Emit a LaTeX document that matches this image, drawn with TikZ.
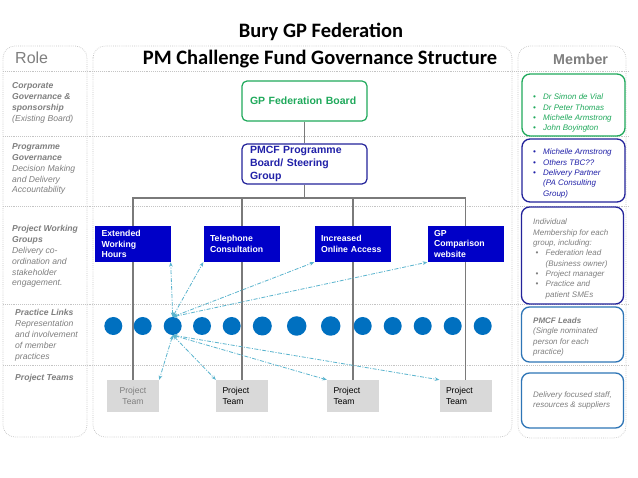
\documentclass[tikz,border=0pt]{standalone}
\usepackage{fontspec}
\setmainfont{Liberation Sans}
\newfontfamily\titlefont{Carlito}
\usetikzlibrary{arrows.meta}
\definecolor{dotgray}{HTML}{C4C4C4}
\definecolor{rolegray}{HTML}{7F7F7F}
\definecolor{fedgreen}{HTML}{1FA95B}
\definecolor{navy}{HTML}{23239A}
\definecolor{navytext}{HTML}{2020A8}
\definecolor{wgblue}{HTML}{0000C8}
\definecolor{dotblue}{HTML}{0070C0}
\definecolor{arrcol}{HTML}{5AB4CE}
\definecolor{steel}{HTML}{2E75B6}
\definecolor{teamgray}{HTML}{D9D9D9}
\definecolor{linegray}{HTML}{7A7A7A}
\newcommand\myfs[2]{\fontsize{#1pt}{#2pt}\selectfont}
\newcommand\mybul{\makebox[10pt][l]{\textbullet}}
\begin{document}
\begin{tikzpicture}[x=1pt,y=-1pt,
  colbox/.style={draw=dotgray, line width=0.7pt, dash pattern=on 0.7pt off 1.2pt, rounded corners=12pt},
  sepline/.style={draw=dotgray, line width=0.7pt, dash pattern=on 0.7pt off 1.2pt},
  roletxt/.style={anchor=north west, inner sep=0pt, align=left, text=rolegray, font=\itshape\myfs{8.6}{10.8}},
  fedbox/.style={draw=fedgreen, text=fedgreen, line width=1.2pt, rounded corners=5pt, minimum width=125pt, minimum height=40pt, text width=109pt, inner xsep=8pt, inner ysep=0pt, align=left, font=\bfseries\myfs{10.5}{12.7}},
  pmbox/.style={fedbox, draw=navy, text=navytext},
  wg/.style={fill=wgblue, text=white, font=\bfseries\myfs{8.7}{10.7}, minimum width=76pt, minimum height=36pt, text width=63pt, align=left, inner xsep=6.5pt, inner ysep=0pt},
  team/.style={fill=teamgray, minimum width=52pt, minimum height=32pt, inner ysep=0pt, font=\myfs{8.6}{10.7}},
  conn/.style={draw=linegray, line width=1.1pt},
  pdot/.style={circle, fill=dotblue, inner sep=0pt, minimum size=18pt},
  arr/.style={draw=arrcol, line width=0.8pt, dash pattern=on 4pt off 1.5pt on 1pt off 1.5pt, <->, >={Stealth[length=4.5pt,width=3.6pt]}},
  rbox/.style={fill=white, line width=1.3pt, rounded corners=8pt, inner sep=0pt, minimum width=102pt},
  mtxt/.style={anchor=north west, inner sep=0pt, align=left, font=\itshape\myfs{8}{10.3}}
]
\useasboundingbox[fill=white] (0,0) rectangle (638,478);

% column frames and row separators
\draw[colbox] (3,46) rectangle (87,437);
\draw[colbox] (93,46) rectangle (512,437);
\draw[colbox] (518,46) rectangle (626,438);
\foreach \yy in {71,136,206,304,365} \draw[sepline] (3,\yy) -- (629,\yy);

% title
\node[anchor=base, font=\titlefont\bfseries\myfs{20.5}{24}] (t1) at (321,38) {Bury GP Federation};
\node[anchor=base, font=\titlefont\bfseries\myfs{20.5}{24}] (t2) at (320,65) {PM Challenge Fund Governance Structure};

% headers
\node[anchor=base west, inner sep=0pt, text=rolegray, font=\myfs{16}{18}] (role) at (15,64) {Role};
\node[anchor=base west, inner sep=0pt, text=rolegray, font=\bfseries\myfs{14.3}{17}] (member) at (553,65) {Member};

% role texts
\node[roletxt] (r1) at (12,82.5) {\textbf{Corporate}\\\textbf{Governance \&}\\\textbf{sponsorship}\\(Existing Board)};
\node[roletxt] (r2) at (12,143.5) {\textbf{Programme}\\\textbf{Governance}\\Decision Making\\and Delivery\\Accountability};
\node[roletxt] (r3) at (12,225.5) {\textbf{Project Working}\\\textbf{Groups}\\Delivery co-\\ordination and\\stakeholder\\engagement.};
\node[roletxt] (r4) at (15,309.5) {\textbf{Practice Links}\\Representation\\and involvement\\of member\\practices};
\node[roletxt] (r5) at (15,374.5) {\textbf{Project Teams}};

% structure boxes
\node[fedbox] (gpfb) at (304.5,101) {GP Federation Board};
\node[pmbox] (pmcf) at (304.5,164) {PMCF Programme\\Board/ Steering\\Group};

% project teams
\node[team, text=rolegray, align=center, inner xsep=0pt] (pt1) at (133,396) {Project\\Team};
\node[team, align=left, text width=39pt, inner xsep=6.5pt] (pt2) at (242,396) {Project\\Team};
\node[team, align=left, text width=39pt, inner xsep=6.5pt] (pt3) at (353,396) {Project\\Team};
\node[team, align=left, text width=39pt, inner xsep=6.5pt] (pt4) at (465.5,396) {Project\\Team};

% connectors
\coordinate (bus) at (0,198);
\draw[conn] (gpfb) -- (pmcf);
\draw[conn] (pmcf.south) -- (pmcf.south |- bus);
\draw[conn] ([xshift=-0.55pt]pt1.north |- bus) -- ([xshift=0.55pt]pt4.north |- bus);
\foreach \n in {pt1,pt2,pt3,pt4} \draw[conn] (\n.north |- bus) -- (\n.north);

% practice dots
\node[pdot] (c1) at (113.3,326) {};
\node[pdot] (c2) at (142.7,326) {};
\node[pdot] (c3) at (172.7,326) {};
\node[pdot] (c4) at (202,326) {};
\node[pdot] (c5) at (231.7,326) {};
\node[pdot, minimum size=19pt] (c6) at (262.3,326) {};
\node[pdot, minimum size=19.5pt] (c7) at (296.7,326) {};
\node[pdot, minimum size=19.5pt] (c8) at (330.7,326) {};
\node[pdot] (c9) at (362.7,326) {};
\node[pdot] (c10) at (392.7,326) {};
\node[pdot] (c11) at (422.7,326) {};
\node[pdot] (c12) at (452.7,326) {};
\node[pdot] (c13) at (482.7,326) {};

% working groups
\node[wg] (wg1) at (133,244) {Extended\\Working\\Hours};
\node[wg] (wg2) at (241.5,244) {Telephone\\Consultation};
\node[wg] (wg3) at (352.5,244) {Increased\\Online Access};
\node[wg] (wg4) at (465.5,244) {GP\\Comparison\\website};

% links
\draw[arr] (c3.north) -- ([xshift=-0.5pt]wg1.south east);
\draw[arr] (c3.north) -- (wg2.south west);
\draw[arr] (c3.north) -- (wg3.south west);
\draw[arr] (c3.north) -- (wg4.south west);
\draw[arr] (c3.south) -- (pt1.north east);
\draw[arr] (c3.south) -- (pt2.north west);
\draw[arr] (c3.south) -- (pt3.north west);
\draw[arr] (c3.south) -- (pt4.north west);

% member column
\node[rbox, draw=fedgreen, minimum width=103pt, minimum height=62pt] (m1) at (573.5,105) {};
\node[rbox, draw=navy, minimum width=103pt, minimum height=63pt] (m2) at (573.5,170.5) {};
\node[rbox, draw=navy, minimum height=97pt] (m3) at (572.5,255.5) {};
\node[rbox, draw=steel, minimum height=55pt] (m4) at (572.5,334.5) {};
\node[rbox, draw=steel, minimum height=55pt, text=rolegray, align=left, font=\itshape\myfs{8}{10.5}] (m5) at (572.5,400.5) {Delivery focused staff,\\resources \& suppliers};

\node[mtxt, text=fedgreen] (m1t) at (533,94) {\mybul Dr Simon de Vial\\\mybul Dr Peter Thomas\\\mybul Michelle Armstrong\\\mybul John Boyington};
\node[mtxt, text=navytext] (m2t) at (533,149) {\mybul Michelle Armstrong\\\mybul Others TBC??\\\mybul Delivery Partner\\\hspace*{10pt}(PA Consulting\\\hspace*{10pt}Group)};
\node[mtxt, text=rolegray] (m3t) at (533,219) {Individual\\Membership for each\\group, including:\\\hspace*{2.5pt}\mybul Federation lead\\\hspace*{12.5pt}(Business owner)\\\hspace*{2.5pt}\mybul Project manager\\\hspace*{2.5pt}\mybul Practice and\\\hspace*{12.5pt}patient SMEs};
\node[mtxt, text=rolegray] (m4t) at (533,317.5) {\textbf{PMCF Leads}\\(Single nominated\\person for each\\practice)};
\end{tikzpicture}
\end{document}
